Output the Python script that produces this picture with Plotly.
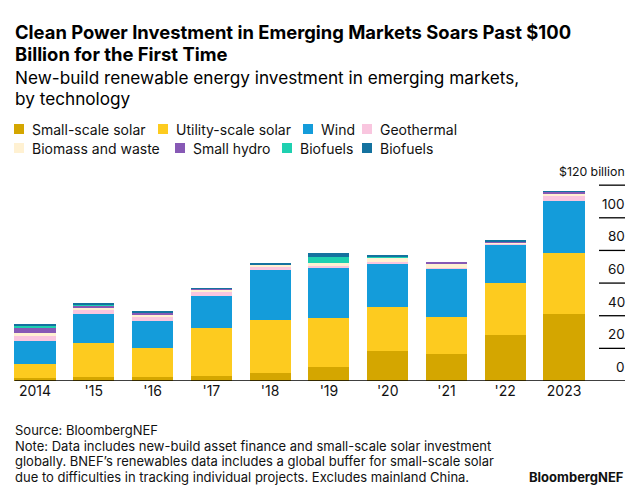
import plotly.graph_objects as go

years = ["2014", "'15", "'16", "'17", "'18", "'19", "'20", "'21", "'22", "2023"]
small_solar = [1.6, 2.5, 2.7, 3.3, 5.1, 8.6, 18.6, 16.6, 28.2, 40.9]
utility_solar = [9.0, 21.0, 17.5, 29.2, 32.1, 30.2, 27.0, 22.9, 31.9, 37.4]
wind = [14.1, 17.8, 16.6, 19.8, 31.1, 31.0, 26.1, 29.6, 23.8, 31.9]
geothermal = [2.6, 2.0, 2.3, 2.5, 1.5, 0.6, 1.2, 0.3, 0.3, 3.7]
biomass = [2.4, 1.3, 1.6, 1.0, 1.3, 2.2, 2.7, 2.8, 0.4, 1.2]
small_hydro = [2.9, 1.8, 1.5, 0.6, 0.5, 0.0, 0.3, 0.8, 1.0, 0.8]
biofuels_a = [1.3, 0.5, 0.0, 0.0, 0.0, 3.1, 0.5, 0.0, 0.0, 0.0]
biofuels_b = [1.0, 0.4, 0.2, 0.4, 0.4, 2.9, 0.7, 0.0, 0.5, 0.2]

series_names = ["Small-scale solar", "Utility-scale solar", "Wind", "Geothermal",
                "Biomass and waste", "Small hydro", "Biofuels", "Biofuels"]
series_values = [small_solar, utility_solar, wind, geothermal, biomass,
                 small_hydro, biofuels_a, biofuels_b]
colors = ["#D4A600", "#FDCB1F", "#149CDA", "#F9C6DF", "#FFF1D2",
          "#8759B5", "#1FD0B0", "#14729F"]

y_ticks = [0, 20, 40, 60, 80, 100, 120]
y_tick_labels = ["0", "20", "40", "60", "80", "100", "$120 billion"]

FONT = "Inter, Liberation Sans, Arial, sans-serif"
W, H = 640, 497
L, R, T, B = 14, 15, 177, 116
PW, PH = W - L - R, H - T - B


def px(x):
    return (x - L) / PW


def py(y):
    return (H - B - y) / PH


fig = go.Figure()
for name, vals, col in zip(series_names, series_values, colors):
    fig.add_trace(go.Bar(x=list(range(len(years))), y=vals, name=name,
                         marker=dict(color=col, line=dict(width=0)),
                         showlegend=False))

annotations = []
shapes = []

# Title and subtitle
annotations.append(dict(xref="paper", yref="paper", x=px(13), y=py(32),
                        xanchor="left", yanchor="middle", align="left",
                        showarrow=False,
                        text="<b>Clean Power Investment in Emerging Markets Soars Past $100</b>",
                        font=dict(family=FONT, size=18.4, color="#000")))
annotations.append(dict(xref="paper", yref="paper", x=px(13), y=py(54),
                        xanchor="left", yanchor="middle", align="left",
                        showarrow=False,
                        text="<b>Billion for the First Time</b>",
                        font=dict(family=FONT, size=18.4, color="#000")))
annotations.append(dict(xref="paper", yref="paper", x=px(13), y=py(77),
                        xanchor="left", yanchor="middle", align="left",
                        showarrow=False,
                        text="New-build renewable energy investment in emerging markets,",
                        font=dict(family=FONT, size=17.2, color="#000")))
annotations.append(dict(xref="paper", yref="paper", x=px(13), y=py(98),
                        xanchor="left", yanchor="middle", align="left",
                        showarrow=False, text="by technology",
                        font=dict(family=FONT, size=17.2, color="#000")))

# Manual legend
legend_pos = [(14, 129), (158, 129), (303, 129), (362, 129),
              (14, 148), (175, 148), (282, 148), (362, 148)]
for (lx, ly), name, col in zip(legend_pos, series_names, colors):
    shapes.append(dict(type="rect", xref="paper", yref="paper",
                       x0=px(lx), x1=px(lx + 10), y0=py(ly - 5), y1=py(ly + 5),
                       fillcolor=col, line=dict(width=0)))
    annotations.append(dict(xref="paper", yref="paper", x=px(lx + 16), y=py(ly),
                            xanchor="left", yanchor="middle", showarrow=False,
                            text=name, font=dict(family=FONT, size=14, color="#111")))

# Y axis labels and short tick lines on right
for v, lab in zip(y_ticks, y_tick_labels):
    annotations.append(dict(xref="paper", yref="y", x=1, y=v, xanchor="right",
                            yanchor="middle", yshift=14, xshift=2, showarrow=False,
                            text=lab,
                            font=dict(family=FONT, size=13.5 if v < 120 else 12.3,
                                      color="#111")))
    if v == 0:
        shapes.append(dict(type="line", xref="paper", yref="y", x0=px(14.5), x1=1,
                           y0=v, y1=v, line=dict(color="#000", width=1.3)))
    else:
        shapes.append(dict(type="line", xref="paper", yref="y", x0=px(599), x1=1,
                           y0=v, y1=v, line=dict(color="#000", width=1.3)))

# Footer
footer = ["Source: BloombergNEF",
          "Note: Data includes new-build asset finance and small-scale solar investment",
          "globally. BNEF\u2019s renewables data includes a global buffer for small-scale solar",
          "due to difficulties in tracking individual projects. Excludes mainland China."]
for i, line in enumerate(footer):
    annotations.append(dict(xref="paper", yref="paper", x=px(13), y=py(430 + 15.5 * i),
                            xanchor="left", yanchor="middle", showarrow=False,
                            text=line, font=dict(family=FONT, size=13, color="#111")))
annotations.append(dict(xref="paper", yref="paper", x=1, y=py(476.5),
                        xanchor="right", yanchor="middle", xshift=1, showarrow=False,
                        text="<b>BloombergNEF</b>",
                        font=dict(family=FONT, size=13, color="#111")))

fig.update_layout(
    width=W, height=H, barmode="stack", bargap=0.3,
    margin=dict(l=L, r=R, t=T, b=B),
    paper_bgcolor="white", plot_bgcolor="white",
    xaxis=dict(range=[-0.357, 10.037], tickmode="array",
               tickvals=list(range(len(years))), ticktext=years,
               showgrid=False, zeroline=False, showline=False, ticks="",
               tickfont=dict(family=FONT, size=14, color="#111")),
    yaxis=dict(range=[0, 125], showticklabels=False, showgrid=False,
               zeroline=False, showline=False, ticks=""),
    annotations=annotations, shapes=shapes,
)

fig.write_html("out.html")
